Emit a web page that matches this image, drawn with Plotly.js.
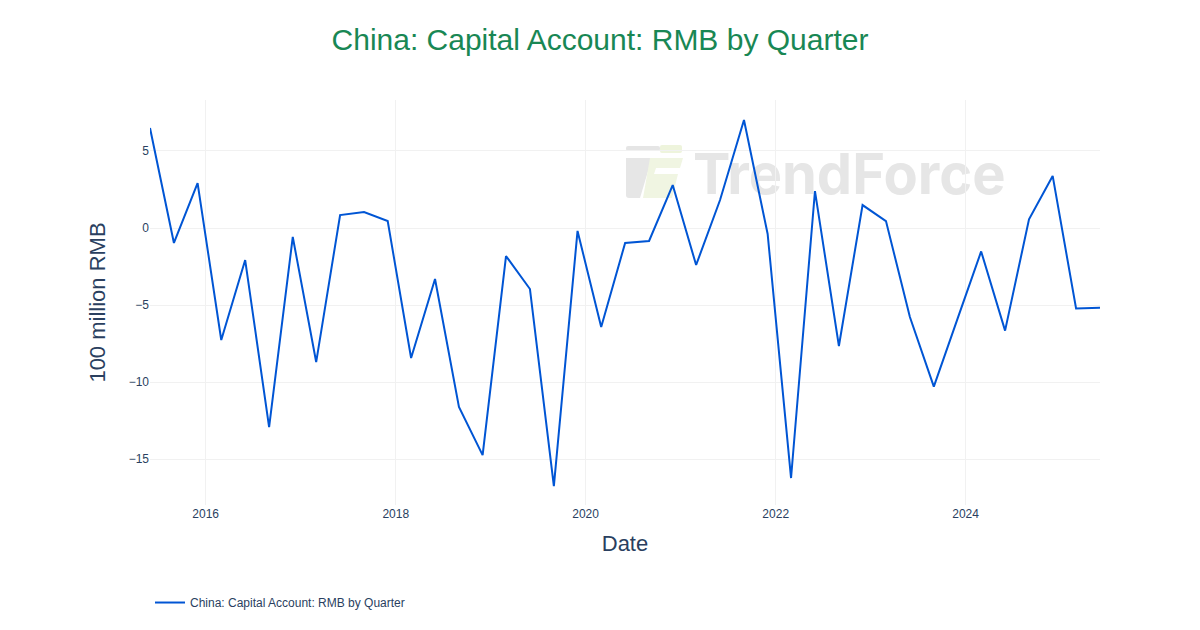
<!DOCTYPE html>
<html>
<head>
<meta charset="utf-8">
<script src="https://cdn.plot.ly/plotly-3.0.1.min.js"></script>
<style>html,body{margin:0;padding:0;background:#fff;}#chart{width:1200px;height:630px;}</style>
</head>
<body>
<div id="chart"></div>
<script>
const dates = [
  "2015-06-01","2015-09-01","2015-12-01",
  "2016-03-01","2016-06-01","2016-09-01","2016-12-01",
  "2017-03-01","2017-06-01","2017-09-01","2017-12-01",
  "2018-03-01","2018-06-01","2018-09-01","2018-12-01",
  "2019-03-01","2019-06-01","2019-09-01","2019-12-01",
  "2020-03-01","2020-06-01","2020-09-01","2020-12-01",
  "2021-03-01","2021-06-01","2021-09-01","2021-12-01",
  "2022-03-01","2022-06-01","2022-09-01","2022-12-01",
  "2023-03-01","2023-06-01","2023-09-01","2023-12-01",
  "2024-03-01","2024-06-01","2024-09-01","2024-12-01",
  "2025-03-01","2025-06-01"
];
const capitalAccount = [
  6.49, -0.97, 2.92,
  -7.27, -2.08, -12.92, -0.58,
  -8.70, 0.84, 1.04, 0.45,
  -8.44, -3.31, -11.62, -14.74,
  -1.82, -3.96, -16.75, -0.19,
  -6.43, -0.97, -0.84, 2.79,
  -2.40, 1.82, 7.01, -0.39,
  -16.23, 2.40, -7.66, 1.49,
  0.45, -5.78, -10.30, -5.90,
  -1.52, -6.66, 0.56, 3.38,
  -5.22, -5.18
];
const seriesName = "China: Capital Account: RMB by Quarter";
const titleText = "China: Capital Account: RMB by Quarter";

const svg = `<svg xmlns="http://www.w3.org/2000/svg" width="400" height="70" viewBox="0 0 400 70">
<rect x="0" y="3" width="34" height="5" rx="2" fill="#e5e5e5"/>
<path d="M0 15 L26 15 L14 55 L3 55 Q0 55 0 52 Z" fill="#e6e6e6"/>
<rect x="34" y="2" width="22" height="8" rx="2" fill="#eef4dc"/>
<path d="M24 15 L57 15 L54 25 L30 25 L28 31 L52 31 L46 55 L17 55 Z" fill="#f0f5e2"/>
<text x="67" y="51" font-family="Inter, 'DejaVu Sans', sans-serif" font-weight="700" font-size="56" fill="#e6e6e6">TrendForce</text>
</svg>`;
const imgSrc = "data:image/svg+xml;base64," + btoa(svg);

const trace = {
  x: dates, y: capitalAccount, type: "scatter", mode: "lines",
  name: seriesName, line: {color: "#0055d4", width: 2}
};

const layout = {
  width: 1200, height: 630,
  margin: {l: 150, r: 100, t: 100, b: 125},
  paper_bgcolor: "#fff", plot_bgcolor: "#fff",
  font: {family: "'Liberation Sans', Arial, sans-serif", color: "#2a3f5f", size: 12},
  title: {text: titleText, x: 0.5, xanchor: "center", y: 0.937, yanchor: "middle",
          font: {size: 30, color: "#198754"}},
  xaxis: {
    type: "date", range: ["2015-06-01", "2025-06-01"],
    title: {text: "Date", font: {size: 22}, standoff: 15},
    gridcolor: "#f1f1f1", showline: false, zeroline: false,
    tickfont: {size: 12}, ticks: ""
  },
  yaxis: {
    range: [-17.98, 8.31],
    title: {text: "100 million RMB", font: {size: 22}, standoff: 16},
    gridcolor: "#f1f1f1", zeroline: false, showline: false,
    dtick: 5, tickfont: {size: 12}, ticks: ""
  },
  showlegend: true,
  legend: {orientation: "h", x: 0, xanchor: "left", y: -0.205, yanchor: "top", font: {size: 12}},
  images: [{
    source: imgSrc, xref: "paper", yref: "paper",
    x: (626 - 150) / 950, y: (505 - 143) / 405,
    sizex: 400 / 950, sizey: 70 / 405,
    xanchor: "left", yanchor: "top", layer: "below", sizing: "stretch"
  }]
};

Plotly.newPlot("chart", [trace], layout, {displayModeBar: false, staticPlot: true});
</script>
</body>
</html>
